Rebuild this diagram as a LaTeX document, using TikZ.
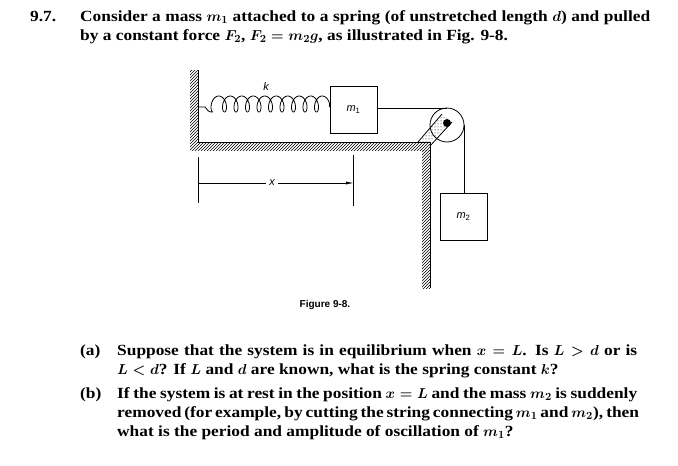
\documentclass[tikz,border=0pt]{standalone}
\usepackage{fontspec}
\setmainfont[FakeStretch=1.12]{Liberation Serif}
\setsansfont{Liberation Sans}
\usetikzlibrary{patterns,arrows.meta}
\newcommand{\fullw}[2]{\makebox[#1][s]{#2}}
\begin{document}
\begin{tikzpicture}[x=1pt,y=-1pt,
  txt/.style={anchor=base west,inner sep=0,font=\fontsize{15.5}{17}\selectfont\bfseries\boldmath},
  lbl/.style={font=\sffamily\itshape\fontsize{11}{13}\selectfont},
  hatch/.style={pattern=north east lines,draw=none},
  ln/.style={line width=0.8pt}]
\useasboundingbox (0,0) rectangle (678,466);
% text
\node[txt] (n) at (30,21) {9.7.};
\node[txt] (l1) at (80,21) {\fullw{570pt}{Consider a mass $m_1$ attached to a spring (of unstretched length $d$) and pulled}};
\node[txt] (l2) at (80,40) {by a constant force $F_2$, $F_2 = m_2g$, as illustrated in Fig. 9-8.};
\node[txt] (a) at (80,355) {(a)};
\node[txt] (a1) at (117,355) {\fullw{520pt}{Suppose that the system is in equilibrium when $x = L$. Is $L > d$ or is}};
\node[txt] (a2) at (117,374) {$L < d$? If $L$ and $d$ are known, what is the spring constant $k$?};
\node[txt] (b) at (80,398) {(b)};
\node[txt] (b1) at (117,398) {\fullw{520pt}{If the system is at rest in the position $x = L$ and the mass $m_2$ is suddenly}};
\node[txt] (b2) at (117,417) {\fullw{520pt}{removed (for example, by cutting the string connecting $m_1$ and $m_2$), then}};
\node[txt] (b3) at (117,436) {what is the period and amplitude of oscillation of $m_1$?};
\node[font=\sffamily\bfseries\fontsize{10}{12}\selectfont] (fig) at (325,305) {Figure 9-8.};
% walls
\fill[hatch] (190,70) rectangle (198,150);
\fill[hatch] (198,142) rectangle (430,150);
\fill[hatch] (422,150) rectangle (430,288);
\draw[ln] (198,70) -- (198,142) -- (430,142) -- (430,288);
% pulley support
\fill[pattern=dots] (418,142) -- (430,142) -- (452,122) -- (442,114) -- cycle;
\draw[ln] (418,142) -- (442,114) (430,146) -- (452,122);
\draw[ln] (447,125) circle (17);
\fill (447,123) circle (4);
% masses
\node[draw,ln,minimum width=47,minimum height=47,inner sep=0,lbl] (m1) at (353.5,109.5) {m\textsubscript{\upshape 1}};
\node[draw,ln,minimum width=47,minimum height=47,inner sep=0,lbl] (m2) at (463.5,216.5) {m\textsubscript{\upshape 2}};
% string
\draw[ln] (m1.east |- 0,108) -- (447,108);
\draw[ln] (464,125) -- (m2.north -| 464,0);
% spring
\draw[ln] (198,107) -- (205,107) .. controls (209,112) .. (213,112) plot[domain=0:9.75,samples=300,smooth] ({213+11.5*\x-4.5*sin(360*\x)},{104+8*cos(360*\x)}) -- (m1.west |- 0,107);
\node[lbl] (k) at (266,87) {k};
% dimension
\draw (198,157) -- (198,203) (353,155) -- (353,206);
\node[lbl] (x) at (272,183) {x};
\draw (198,183) -- (x.west) (x.east) edge[-{Latex[length=7pt,width=3pt]}] (353,183);
\end{tikzpicture}
\end{document}
